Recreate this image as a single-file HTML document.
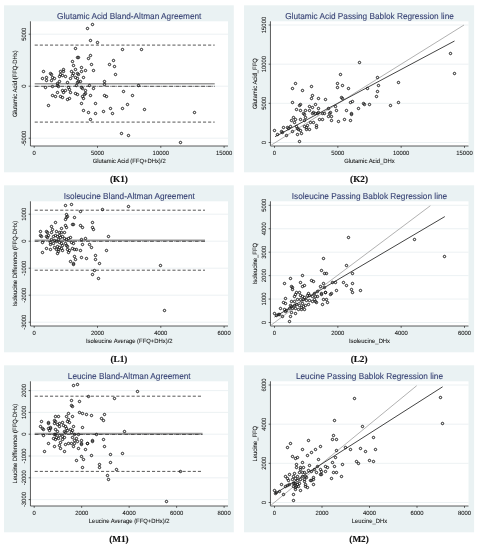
<!DOCTYPE html><html><head><meta charset="utf-8"><style>html,body{margin:0;padding:0;background:#fff;width:479px;height:550px;overflow:hidden}svg{display:block;filter:blur(0.3px)}text{font-family:"Liberation Sans",Arial,sans-serif;text-rendering:geometricPrecision}.t{font-size:8.5px;fill:#343f72;stroke:#343f72;stroke-width:0.1px}.s{font-size:6.2px;fill:#111;stroke:#111;stroke-width:0.06px}.m{fill:none;stroke:#1a1a1a;stroke-width:1.0px;}.lab{font-family:"Liberation Serif","Times New Roman",serif;font-weight:bold;font-size:9.2px;fill:#111;stroke:#111;stroke-width:0.15px}</style></head><body>
<svg width="479" height="550" viewBox="0 0 479 550">
<rect width="479" height="550" fill="#fff"/>
<rect x="4" y="5.3" width="229.8" height="167.0" fill="#eaf2f3"/>
<rect x="30.45" y="21.3" width="197.55" height="124.7" fill="#fff"/>
<line x1="30.45" x2="228" y1="34.2" y2="34.2" stroke="#e7eef0" stroke-width="0.8"/>
<line x1="30.45" x2="228" y1="86.2" y2="86.2" stroke="#e7eef0" stroke-width="0.8"/>
<line x1="30.45" x2="228" y1="138.2" y2="138.2" stroke="#e7eef0" stroke-width="0.8"/>
<text class="t" transform="translate(129.22,18.55) scale(0.97,1)" text-anchor="middle">Glutamic Acid Bland-Altman Agreement</text>
<path d="M30.45 21.3V146.0H228" fill="none" stroke="#333" stroke-width="0.8"/>
<line x1="28.65" x2="30.45" y1="34.2" y2="34.2" stroke="#333" stroke-width="0.8"/>
<text class="s" transform="translate(26.45,34.2) rotate(-90) scale(0.95,1)" text-anchor="middle">5000</text>
<line x1="28.65" x2="30.45" y1="86.2" y2="86.2" stroke="#333" stroke-width="0.8"/>
<text class="s" transform="translate(26.45,86.2) rotate(-90) scale(0.95,1)" text-anchor="middle">0</text>
<line x1="28.65" x2="30.45" y1="138.2" y2="138.2" stroke="#333" stroke-width="0.8"/>
<text class="s" transform="translate(26.45,138.2) rotate(-90) scale(0.95,1)" text-anchor="middle">-5000</text>
<text class="s" transform="translate(17.25,83.65) rotate(-90) scale(0.95,1)" text-anchor="middle">Glutamic Acid (FFQ-DHx)</text>
<line x1="34.2" x2="34.2" y1="146.0" y2="147.8" stroke="#333" stroke-width="0.8"/>
<text class="s" transform="translate(34.2,154.7) scale(0.95,1)" text-anchor="middle">0</text>
<line x1="97.5" x2="97.5" y1="146.0" y2="147.8" stroke="#333" stroke-width="0.8"/>
<text class="s" transform="translate(97.5,154.7) scale(0.95,1)" text-anchor="middle">5000</text>
<line x1="160.8" x2="160.8" y1="146.0" y2="147.8" stroke="#333" stroke-width="0.8"/>
<text class="s" transform="translate(160.8,154.7) scale(0.95,1)" text-anchor="middle">10000</text>
<line x1="224.1" x2="224.1" y1="146.0" y2="147.8" stroke="#333" stroke-width="0.8"/>
<text class="s" transform="translate(224.1,154.7) scale(0.95,1)" text-anchor="middle">15000</text>
<text class="s" transform="translate(129.22,162.7) scale(0.95,1)" text-anchor="middle">Glutamic Acid (FFQ+DHx)/2</text>
<line x1="34.7" x2="214.7" y1="83.8" y2="83.8" stroke="#9a9a9a" stroke-width="1.6"/>
<line x1="34.7" x2="214.7" y1="86.3" y2="86.3" stroke="#333" stroke-width="0.9" stroke-dasharray="4 0.9 0.6 0.9"/>
<line x1="34.7" x2="214.7" y1="45.1" y2="45.1" stroke="#444" stroke-width="0.9" stroke-dasharray="3.1 2"/>
<line x1="34.7" x2="214.7" y1="122.1" y2="122.1" stroke="#444" stroke-width="0.9" stroke-dasharray="3.1 2"/>
<g class="m">
<circle cx="87.5" cy="28.5" r="1.2"/>
<circle cx="92.5" cy="24.5" r="1.2"/>
<circle cx="90.5" cy="40.5" r="1.2"/>
<circle cx="97.5" cy="42.5" r="1.2"/>
<circle cx="75.5" cy="48.5" r="1.2"/>
<circle cx="122.5" cy="49.5" r="1.2"/>
<circle cx="90.5" cy="55.5" r="1.2"/>
<circle cx="88.5" cy="58.5" r="1.2"/>
<circle cx="113.5" cy="60.5" r="1.2"/>
<circle cx="91.5" cy="64.5" r="1.2"/>
<circle cx="109.5" cy="64.5" r="1.2"/>
<circle cx="114.5" cy="66.5" r="1.2"/>
<circle cx="93.5" cy="70.5" r="1.2"/>
<circle cx="115.5" cy="74.5" r="1.2"/>
<circle cx="104.5" cy="81.5" r="1.2"/>
<circle cx="77.5" cy="57.5" r="1.2"/>
<circle cx="78.5" cy="57.5" r="1.2"/>
<circle cx="72.5" cy="61.5" r="1.2"/>
<circle cx="73.5" cy="65.5" r="1.2"/>
<circle cx="81.5" cy="67.5" r="1.2"/>
<circle cx="43.5" cy="71.5" r="1.2"/>
<circle cx="60.5" cy="71.5" r="1.2"/>
<circle cx="63.5" cy="69.5" r="1.2"/>
<circle cx="63.5" cy="71.5" r="1.2"/>
<circle cx="71.5" cy="71.5" r="1.2"/>
<circle cx="75.5" cy="69.5" r="1.2"/>
<circle cx="81.5" cy="71.5" r="1.2"/>
<circle cx="85.5" cy="70.5" r="1.2"/>
<circle cx="50.5" cy="73.5" r="1.2"/>
<circle cx="51.5" cy="74.5" r="1.2"/>
<circle cx="60.5" cy="74.5" r="1.2"/>
<circle cx="62.5" cy="75.5" r="1.2"/>
<circle cx="73.5" cy="73.5" r="1.2"/>
<circle cx="77.5" cy="73.5" r="1.2"/>
<circle cx="78.5" cy="74.5" r="1.2"/>
<circle cx="42.5" cy="78.5" r="1.2"/>
<circle cx="46.5" cy="77.5" r="1.2"/>
<circle cx="46.5" cy="80.5" r="1.2"/>
<circle cx="52.5" cy="77.5" r="1.2"/>
<circle cx="54.5" cy="78.5" r="1.2"/>
<circle cx="51.5" cy="80.5" r="1.2"/>
<circle cx="59.5" cy="76.5" r="1.2"/>
<circle cx="65.5" cy="76.5" r="1.2"/>
<circle cx="70.5" cy="78.5" r="1.2"/>
<circle cx="72.5" cy="75.5" r="1.2"/>
<circle cx="75.5" cy="77.5" r="1.2"/>
<circle cx="77.5" cy="78.5" r="1.2"/>
<circle cx="83.5" cy="77.5" r="1.2"/>
<circle cx="67.5" cy="82.5" r="1.2"/>
<circle cx="59.5" cy="81.5" r="1.2"/>
<circle cx="78.5" cy="81.5" r="1.2"/>
<circle cx="80.5" cy="81.5" r="1.2"/>
<circle cx="77.5" cy="82.5" r="1.2"/>
<circle cx="57.5" cy="83.5" r="1.2"/>
<circle cx="45.5" cy="87.5" r="1.2"/>
<circle cx="52.5" cy="86.5" r="1.2"/>
<circle cx="57.5" cy="85.5" r="1.2"/>
<circle cx="58.5" cy="86.5" r="1.2"/>
<circle cx="68.5" cy="87.5" r="1.2"/>
<circle cx="69.5" cy="89.5" r="1.2"/>
<circle cx="76.5" cy="85.5" r="1.2"/>
<circle cx="81.5" cy="87.5" r="1.2"/>
<circle cx="82.5" cy="88.5" r="1.2"/>
<circle cx="85.5" cy="90.5" r="1.2"/>
<circle cx="89.5" cy="85.5" r="1.2"/>
<circle cx="93.5" cy="88.5" r="1.2"/>
<circle cx="104.5" cy="84.5" r="1.2"/>
<circle cx="123.5" cy="91.5" r="1.2"/>
<circle cx="57.5" cy="92.5" r="1.2"/>
<circle cx="62.5" cy="90.5" r="1.2"/>
<circle cx="63.5" cy="92.5" r="1.2"/>
<circle cx="65.5" cy="90.5" r="1.2"/>
<circle cx="70.5" cy="92.5" r="1.2"/>
<circle cx="75.5" cy="93.5" r="1.2"/>
<circle cx="77.5" cy="94.5" r="1.2"/>
<circle cx="85.5" cy="93.5" r="1.2"/>
<circle cx="84.5" cy="94.5" r="1.2"/>
<circle cx="52.5" cy="95.5" r="1.2"/>
<circle cx="55.5" cy="96.5" r="1.2"/>
<circle cx="60.5" cy="96.5" r="1.2"/>
<circle cx="62.5" cy="97.5" r="1.2"/>
<circle cx="67.5" cy="99.5" r="1.2"/>
<circle cx="69.5" cy="98.5" r="1.2"/>
<circle cx="82.5" cy="96.5" r="1.2"/>
<circle cx="83.5" cy="98.5" r="1.2"/>
<circle cx="90.5" cy="95.5" r="1.2"/>
<circle cx="104.5" cy="95.5" r="1.2"/>
<circle cx="106.5" cy="96.5" r="1.2"/>
<circle cx="48.5" cy="105.5" r="1.2"/>
<circle cx="81.5" cy="103.5" r="1.2"/>
<circle cx="95.5" cy="103.5" r="1.2"/>
<circle cx="83.5" cy="110.5" r="1.2"/>
<circle cx="88.5" cy="112.5" r="1.2"/>
<circle cx="95.5" cy="113.5" r="1.2"/>
<circle cx="103.5" cy="111.5" r="1.2"/>
<circle cx="110.5" cy="108.5" r="1.2"/>
<circle cx="112.5" cy="113.5" r="1.2"/>
<circle cx="122.5" cy="108.5" r="1.2"/>
<circle cx="90.5" cy="119.5" r="1.2"/>
<circle cx="121.5" cy="133.5" r="1.2"/>
<circle cx="141.5" cy="49.5" r="1.2"/>
<circle cx="138.5" cy="85.5" r="1.2"/>
<circle cx="132.5" cy="95.5" r="1.2"/>
<circle cx="127.5" cy="104.5" r="1.2"/>
<circle cx="144.5" cy="109.5" r="1.2"/>
<circle cx="194.5" cy="112.5" r="1.2"/>
<circle cx="128.5" cy="135.5" r="1.2"/>
<circle cx="180.5" cy="142.5" r="1.2"/>
</g>
<text class="lab" x="118.9" y="182.1" text-anchor="middle">(K1)</text>
<rect x="244" y="5.3" width="230.10000000000002" height="167.0" fill="#eaf2f3"/>
<rect x="270.45" y="21.3" width="198.05" height="124.7" fill="#fff"/>
<line x1="270.45" x2="468.5" y1="142.5" y2="142.5" stroke="#e7eef0" stroke-width="0.8"/>
<line x1="270.45" x2="468.5" y1="103.33" y2="103.33" stroke="#e7eef0" stroke-width="0.8"/>
<line x1="270.45" x2="468.5" y1="64.17" y2="64.17" stroke="#e7eef0" stroke-width="0.8"/>
<line x1="270.45" x2="468.5" y1="25" y2="25" stroke="#e7eef0" stroke-width="0.8"/>
<text class="t" transform="translate(369.48,18.55) scale(0.97,1)" text-anchor="middle">Glutamic Acid Passing Bablok Regression line</text>
<path d="M270.45 21.3V146.0H468.5" fill="none" stroke="#333" stroke-width="0.8"/>
<line x1="268.65" x2="270.45" y1="142.5" y2="142.5" stroke="#333" stroke-width="0.8"/>
<text class="s" transform="translate(266.45,142.5) rotate(-90) scale(0.95,1)" text-anchor="middle">0</text>
<line x1="268.65" x2="270.45" y1="103.33" y2="103.33" stroke="#333" stroke-width="0.8"/>
<text class="s" transform="translate(266.45,103.33) rotate(-90) scale(0.95,1)" text-anchor="middle">5000</text>
<line x1="268.65" x2="270.45" y1="64.17" y2="64.17" stroke="#333" stroke-width="0.8"/>
<text class="s" transform="translate(266.45,64.17) rotate(-90) scale(0.95,1)" text-anchor="middle">10000</text>
<line x1="268.65" x2="270.45" y1="25" y2="25" stroke="#333" stroke-width="0.8"/>
<text class="s" transform="translate(266.45,25) rotate(-90) scale(0.95,1)" text-anchor="middle">15000</text>
<text class="s" transform="translate(257.25,83.65) rotate(-90) scale(0.95,1)" text-anchor="middle">Glutamic Acid_FFQ</text>
<line x1="274.5" x2="274.5" y1="146.0" y2="147.8" stroke="#333" stroke-width="0.8"/>
<text class="s" transform="translate(274.5,154.7) scale(0.95,1)" text-anchor="middle">0</text>
<line x1="337.83" x2="337.83" y1="146.0" y2="147.8" stroke="#333" stroke-width="0.8"/>
<text class="s" transform="translate(337.83,154.7) scale(0.95,1)" text-anchor="middle">5000</text>
<line x1="401.17" x2="401.17" y1="146.0" y2="147.8" stroke="#333" stroke-width="0.8"/>
<text class="s" transform="translate(401.17,154.7) scale(0.95,1)" text-anchor="middle">10000</text>
<line x1="464.5" x2="464.5" y1="146.0" y2="147.8" stroke="#333" stroke-width="0.8"/>
<text class="s" transform="translate(464.5,154.7) scale(0.95,1)" text-anchor="middle">15000</text>
<text class="s" transform="translate(369.48,162.7) scale(0.95,1)" text-anchor="middle">Glutamic Acid_DHx</text>
<line x1="270.75" y1="145.4" x2="464" y2="25" stroke="#a8a8a8" stroke-width="0.9"/>
<line x1="275" y1="136.7" x2="454.5" y2="41" stroke="#3a3a3a" stroke-width="0.95"/>
<g class="m">
<circle cx="359.5" cy="62.5" r="1.2"/>
<circle cx="340.5" cy="74.5" r="1.2"/>
<circle cx="295.5" cy="83.5" r="1.2"/>
<circle cx="292.5" cy="88.5" r="1.2"/>
<circle cx="311.5" cy="86.5" r="1.2"/>
<circle cx="302.5" cy="90.5" r="1.2"/>
<circle cx="312.5" cy="95.5" r="1.2"/>
<circle cx="311.5" cy="98.5" r="1.2"/>
<circle cx="292.5" cy="102.5" r="1.2"/>
<circle cx="299.5" cy="105.5" r="1.2"/>
<circle cx="300.5" cy="104.5" r="1.2"/>
<circle cx="309.5" cy="106.5" r="1.2"/>
<circle cx="312.5" cy="107.5" r="1.2"/>
<circle cx="315.5" cy="104.5" r="1.2"/>
<circle cx="296.5" cy="109.5" r="1.2"/>
<circle cx="300.5" cy="110.5" r="1.2"/>
<circle cx="305.5" cy="110.5" r="1.2"/>
<circle cx="309.5" cy="110.5" r="1.2"/>
<circle cx="337.5" cy="83.5" r="1.2"/>
<circle cx="342.5" cy="85.5" r="1.2"/>
<circle cx="337.5" cy="87.5" r="1.2"/>
<circle cx="348.5" cy="88.5" r="1.2"/>
<circle cx="318.5" cy="98.5" r="1.2"/>
<circle cx="325.5" cy="99.5" r="1.2"/>
<circle cx="341.5" cy="97.5" r="1.2"/>
<circle cx="342.5" cy="98.5" r="1.2"/>
<circle cx="350.5" cy="102.5" r="1.2"/>
<circle cx="352.5" cy="101.5" r="1.2"/>
<circle cx="363.5" cy="103.5" r="1.2"/>
<circle cx="318.5" cy="108.5" r="1.2"/>
<circle cx="328.5" cy="108.5" r="1.2"/>
<circle cx="335.5" cy="106.5" r="1.2"/>
<circle cx="336.5" cy="110.5" r="1.2"/>
<circle cx="346.5" cy="110.5" r="1.2"/>
<circle cx="358.5" cy="108.5" r="1.2"/>
<circle cx="330.5" cy="112.5" r="1.2"/>
<circle cx="351.5" cy="113.5" r="1.2"/>
<circle cx="274.5" cy="130.5" r="1.2"/>
<circle cx="277.5" cy="134.5" r="1.2"/>
<circle cx="281.5" cy="131.5" r="1.2"/>
<circle cx="282.5" cy="132.5" r="1.2"/>
<circle cx="283.5" cy="127.5" r="1.2"/>
<circle cx="287.5" cy="127.5" r="1.2"/>
<circle cx="288.5" cy="128.5" r="1.2"/>
<circle cx="290.5" cy="126.5" r="1.2"/>
<circle cx="286.5" cy="135.5" r="1.2"/>
<circle cx="292.5" cy="131.5" r="1.2"/>
<circle cx="291.5" cy="120.5" r="1.2"/>
<circle cx="293.5" cy="117.5" r="1.2"/>
<circle cx="295.5" cy="119.5" r="1.2"/>
<circle cx="294.5" cy="122.5" r="1.2"/>
<circle cx="300.5" cy="119.5" r="1.2"/>
<circle cx="303.5" cy="113.5" r="1.2"/>
<circle cx="304.5" cy="114.5" r="1.2"/>
<circle cx="305.5" cy="117.5" r="1.2"/>
<circle cx="304.5" cy="120.5" r="1.2"/>
<circle cx="296.5" cy="126.5" r="1.2"/>
<circle cx="297.5" cy="128.5" r="1.2"/>
<circle cx="298.5" cy="129.5" r="1.2"/>
<circle cx="300.5" cy="130.5" r="1.2"/>
<circle cx="297.5" cy="134.5" r="1.2"/>
<circle cx="301.5" cy="133.5" r="1.2"/>
<circle cx="304.5" cy="126.5" r="1.2"/>
<circle cx="306.5" cy="127.5" r="1.2"/>
<circle cx="307.5" cy="125.5" r="1.2"/>
<circle cx="306.5" cy="129.5" r="1.2"/>
<circle cx="309.5" cy="129.5" r="1.2"/>
<circle cx="310.5" cy="122.5" r="1.2"/>
<circle cx="313.5" cy="122.5" r="1.2"/>
<circle cx="316.5" cy="125.5" r="1.2"/>
<circle cx="316.5" cy="127.5" r="1.2"/>
<circle cx="299.5" cy="141.5" r="1.2"/>
<circle cx="312.5" cy="113.5" r="1.2"/>
<circle cx="315.5" cy="113.5" r="1.2"/>
<circle cx="313.5" cy="112.5" r="1.2"/>
<circle cx="318.5" cy="112.5" r="1.2"/>
<circle cx="317.5" cy="113.5" r="1.2"/>
<circle cx="322.5" cy="113.5" r="1.2"/>
<circle cx="324.5" cy="113.5" r="1.2"/>
<circle cx="329.5" cy="113.5" r="1.2"/>
<circle cx="328.5" cy="116.5" r="1.2"/>
<circle cx="331.5" cy="116.5" r="1.2"/>
<circle cx="319.5" cy="119.5" r="1.2"/>
<circle cx="322.5" cy="119.5" r="1.2"/>
<circle cx="331.5" cy="120.5" r="1.2"/>
<circle cx="338.5" cy="121.5" r="1.2"/>
<circle cx="344.5" cy="119.5" r="1.2"/>
<circle cx="350.5" cy="120.5" r="1.2"/>
<circle cx="351.5" cy="114.5" r="1.2"/>
<circle cx="450.5" cy="53.5" r="1.2"/>
<circle cx="454.5" cy="73.5" r="1.2"/>
<circle cx="377.5" cy="77.5" r="1.2"/>
<circle cx="398.5" cy="82.5" r="1.2"/>
<circle cx="378.5" cy="85.5" r="1.2"/>
<circle cx="367.5" cy="88.5" r="1.2"/>
<circle cx="377.5" cy="91.5" r="1.2"/>
<circle cx="376.5" cy="96.5" r="1.2"/>
<circle cx="364.5" cy="104.5" r="1.2"/>
<circle cx="369.5" cy="104.5" r="1.2"/>
<circle cx="390.5" cy="105.5" r="1.2"/>
<circle cx="398.5" cy="102.5" r="1.2"/>
</g>
<text class="lab" x="359.05" y="182.1" text-anchor="middle">(K2)</text>
<rect x="4" y="185.3" width="229.8" height="167.0" fill="#eaf2f3"/>
<rect x="30.45" y="201.3" width="197.55" height="124.69999999999999" fill="#fff"/>
<line x1="30.45" x2="228" y1="214.2" y2="214.2" stroke="#e7eef0" stroke-width="0.8"/>
<line x1="30.45" x2="228" y1="241.2" y2="241.2" stroke="#e7eef0" stroke-width="0.8"/>
<line x1="30.45" x2="228" y1="268.2" y2="268.2" stroke="#e7eef0" stroke-width="0.8"/>
<line x1="30.45" x2="228" y1="295.2" y2="295.2" stroke="#e7eef0" stroke-width="0.8"/>
<line x1="30.45" x2="228" y1="322.2" y2="322.2" stroke="#e7eef0" stroke-width="0.8"/>
<text class="t" transform="translate(129.22,198.55) scale(0.97,1)" text-anchor="middle">Isoleucine Bland-Altman Agreement</text>
<path d="M30.45 201.3V326.0H228" fill="none" stroke="#333" stroke-width="0.8"/>
<line x1="28.65" x2="30.45" y1="214.2" y2="214.2" stroke="#333" stroke-width="0.8"/>
<text class="s" transform="translate(26.45,214.2) rotate(-90) scale(0.95,1)" text-anchor="middle">1000</text>
<line x1="28.65" x2="30.45" y1="241.2" y2="241.2" stroke="#333" stroke-width="0.8"/>
<text class="s" transform="translate(26.45,241.2) rotate(-90) scale(0.95,1)" text-anchor="middle">0</text>
<line x1="28.65" x2="30.45" y1="268.2" y2="268.2" stroke="#333" stroke-width="0.8"/>
<text class="s" transform="translate(26.45,268.2) rotate(-90) scale(0.95,1)" text-anchor="middle">-1000</text>
<line x1="28.65" x2="30.45" y1="295.2" y2="295.2" stroke="#333" stroke-width="0.8"/>
<text class="s" transform="translate(26.45,295.2) rotate(-90) scale(0.95,1)" text-anchor="middle">-2000</text>
<line x1="28.65" x2="30.45" y1="322.2" y2="322.2" stroke="#333" stroke-width="0.8"/>
<text class="s" transform="translate(26.45,322.2) rotate(-90) scale(0.95,1)" text-anchor="middle">-3000</text>
<text class="s" transform="translate(17.25,263.65) rotate(-90) scale(0.95,1)" text-anchor="middle">Isoleucine Difference (FFQ-DHx)</text>
<line x1="34.2" x2="34.2" y1="326.0" y2="327.8" stroke="#333" stroke-width="0.8"/>
<text class="s" transform="translate(34.2,334.7) scale(0.95,1)" text-anchor="middle">0</text>
<line x1="97.5" x2="97.5" y1="326.0" y2="327.8" stroke="#333" stroke-width="0.8"/>
<text class="s" transform="translate(97.5,334.7) scale(0.95,1)" text-anchor="middle">2000</text>
<line x1="160.8" x2="160.8" y1="326.0" y2="327.8" stroke="#333" stroke-width="0.8"/>
<text class="s" transform="translate(160.8,334.7) scale(0.95,1)" text-anchor="middle">4000</text>
<line x1="224.1" x2="224.1" y1="326.0" y2="327.8" stroke="#333" stroke-width="0.8"/>
<text class="s" transform="translate(224.1,334.7) scale(0.95,1)" text-anchor="middle">6000</text>
<text class="s" transform="translate(129.22,342.7) scale(0.95,1)" text-anchor="middle">Isoleucine Average (FFQ+DHx)/2</text>
<line x1="34.7" x2="205" y1="240.3" y2="240.3" stroke="#9a9a9a" stroke-width="1.6"/>
<line x1="34.7" x2="205" y1="241.3" y2="241.3" stroke="#333" stroke-width="0.9" stroke-dasharray="4 0.9 0.6 0.9"/>
<line x1="34.7" x2="205" y1="210.2" y2="210.2" stroke="#444" stroke-width="0.9" stroke-dasharray="3.1 2"/>
<line x1="34.7" x2="205" y1="270.2" y2="270.2" stroke="#444" stroke-width="0.9" stroke-dasharray="3.1 2"/>
<g class="m">
<circle cx="65.5" cy="205.5" r="1.2"/>
<circle cx="71.5" cy="204.5" r="1.2"/>
<circle cx="66.5" cy="214.5" r="1.2"/>
<circle cx="67.5" cy="216.5" r="1.2"/>
<circle cx="66.5" cy="217.5" r="1.2"/>
<circle cx="65.5" cy="219.5" r="1.2"/>
<circle cx="74.5" cy="217.5" r="1.2"/>
<circle cx="55.5" cy="222.5" r="1.2"/>
<circle cx="72.5" cy="224.5" r="1.2"/>
<circle cx="73.5" cy="224.5" r="1.2"/>
<circle cx="51.5" cy="226.5" r="1.2"/>
<circle cx="65.5" cy="225.5" r="1.2"/>
<circle cx="66.5" cy="227.5" r="1.2"/>
<circle cx="61.5" cy="228.5" r="1.2"/>
<circle cx="52.5" cy="229.5" r="1.2"/>
<circle cx="40.5" cy="231.5" r="1.2"/>
<circle cx="46.5" cy="231.5" r="1.2"/>
<circle cx="47.5" cy="232.5" r="1.2"/>
<circle cx="51.5" cy="232.5" r="1.2"/>
<circle cx="56.5" cy="231.5" r="1.2"/>
<circle cx="59.5" cy="232.5" r="1.2"/>
<circle cx="61.5" cy="232.5" r="1.2"/>
<circle cx="64.5" cy="232.5" r="1.2"/>
<circle cx="80.5" cy="211.5" r="1.2"/>
<circle cx="102.5" cy="209.5" r="1.2"/>
<circle cx="80.5" cy="225.5" r="1.2"/>
<circle cx="82.5" cy="227.5" r="1.2"/>
<circle cx="92.5" cy="222.5" r="1.2"/>
<circle cx="92.5" cy="227.5" r="1.2"/>
<circle cx="93.5" cy="229.5" r="1.2"/>
<circle cx="40.5" cy="235.5" r="1.2"/>
<circle cx="41.5" cy="236.5" r="1.2"/>
<circle cx="46.5" cy="236.5" r="1.2"/>
<circle cx="48.5" cy="235.5" r="1.2"/>
<circle cx="47.5" cy="237.5" r="1.2"/>
<circle cx="53.5" cy="236.5" r="1.2"/>
<circle cx="55.5" cy="235.5" r="1.2"/>
<circle cx="57.5" cy="236.5" r="1.2"/>
<circle cx="59.5" cy="235.5" r="1.2"/>
<circle cx="60.5" cy="237.5" r="1.2"/>
<circle cx="62.5" cy="236.5" r="1.2"/>
<circle cx="64.5" cy="238.5" r="1.2"/>
<circle cx="66.5" cy="239.5" r="1.2"/>
<circle cx="68.5" cy="238.5" r="1.2"/>
<circle cx="70.5" cy="237.5" r="1.2"/>
<circle cx="51.5" cy="239.5" r="1.2"/>
<circle cx="54.5" cy="240.5" r="1.2"/>
<circle cx="56.5" cy="241.5" r="1.2"/>
<circle cx="58.5" cy="239.5" r="1.2"/>
<circle cx="42.5" cy="242.5" r="1.2"/>
<circle cx="50.5" cy="242.5" r="1.2"/>
<circle cx="50.5" cy="244.5" r="1.2"/>
<circle cx="53.5" cy="243.5" r="1.2"/>
<circle cx="59.5" cy="242.5" r="1.2"/>
<circle cx="61.5" cy="243.5" r="1.2"/>
<circle cx="62.5" cy="245.5" r="1.2"/>
<circle cx="65.5" cy="243.5" r="1.2"/>
<circle cx="66.5" cy="245.5" r="1.2"/>
<circle cx="67.5" cy="246.5" r="1.2"/>
<circle cx="71.5" cy="242.5" r="1.2"/>
<circle cx="73.5" cy="243.5" r="1.2"/>
<circle cx="46.5" cy="248.5" r="1.2"/>
<circle cx="50.5" cy="249.5" r="1.2"/>
<circle cx="54.5" cy="247.5" r="1.2"/>
<circle cx="57.5" cy="246.5" r="1.2"/>
<circle cx="59.5" cy="247.5" r="1.2"/>
<circle cx="56.5" cy="249.5" r="1.2"/>
<circle cx="58.5" cy="249.5" r="1.2"/>
<circle cx="61.5" cy="248.5" r="1.2"/>
<circle cx="62.5" cy="250.5" r="1.2"/>
<circle cx="57.5" cy="253.5" r="1.2"/>
<circle cx="58.5" cy="251.5" r="1.2"/>
<circle cx="42.5" cy="252.5" r="1.2"/>
<circle cx="67.5" cy="249.5" r="1.2"/>
<circle cx="69.5" cy="250.5" r="1.2"/>
<circle cx="72.5" cy="248.5" r="1.2"/>
<circle cx="74.5" cy="249.5" r="1.2"/>
<circle cx="76.5" cy="249.5" r="1.2"/>
<circle cx="68.5" cy="252.5" r="1.2"/>
<circle cx="74.5" cy="256.5" r="1.2"/>
<circle cx="75.5" cy="259.5" r="1.2"/>
<circle cx="70.5" cy="261.5" r="1.2"/>
<circle cx="73.5" cy="263.5" r="1.2"/>
<circle cx="108.5" cy="236.5" r="1.2"/>
<circle cx="81.5" cy="239.5" r="1.2"/>
<circle cx="85.5" cy="238.5" r="1.2"/>
<circle cx="82.5" cy="244.5" r="1.2"/>
<circle cx="89.5" cy="244.5" r="1.2"/>
<circle cx="91.5" cy="247.5" r="1.2"/>
<circle cx="80.5" cy="250.5" r="1.2"/>
<circle cx="106.5" cy="250.5" r="1.2"/>
<circle cx="95.5" cy="255.5" r="1.2"/>
<circle cx="81.5" cy="257.5" r="1.2"/>
<circle cx="86.5" cy="258.5" r="1.2"/>
<circle cx="95.5" cy="259.5" r="1.2"/>
<circle cx="99.5" cy="263.5" r="1.2"/>
<circle cx="73.5" cy="264.5" r="1.2"/>
<circle cx="94.5" cy="270.5" r="1.2"/>
<circle cx="92.5" cy="274.5" r="1.2"/>
<circle cx="98.5" cy="278.5" r="1.2"/>
<circle cx="128.5" cy="206.5" r="1.2"/>
<circle cx="160.5" cy="265.5" r="1.2"/>
<circle cx="164.5" cy="310.5" r="1.2"/>
</g>
<text class="lab" x="118.9" y="362.1" text-anchor="middle">(L1)</text>
<rect x="244" y="185.3" width="230.10000000000002" height="167.0" fill="#eaf2f3"/>
<rect x="270.45" y="201.3" width="198.05" height="124.69999999999999" fill="#fff"/>
<line x1="270.45" x2="468.5" y1="322.5" y2="322.5" stroke="#e7eef0" stroke-width="0.8"/>
<line x1="270.45" x2="468.5" y1="299.06" y2="299.06" stroke="#e7eef0" stroke-width="0.8"/>
<line x1="270.45" x2="468.5" y1="275.62" y2="275.62" stroke="#e7eef0" stroke-width="0.8"/>
<line x1="270.45" x2="468.5" y1="252.18" y2="252.18" stroke="#e7eef0" stroke-width="0.8"/>
<line x1="270.45" x2="468.5" y1="228.74" y2="228.74" stroke="#e7eef0" stroke-width="0.8"/>
<line x1="270.45" x2="468.5" y1="205.3" y2="205.3" stroke="#e7eef0" stroke-width="0.8"/>
<text class="t" transform="translate(369.48,198.55) scale(0.97,1)" text-anchor="middle">Isoleucine Passing Bablok Regression line</text>
<path d="M270.45 201.3V326.0H468.5" fill="none" stroke="#333" stroke-width="0.8"/>
<line x1="268.65" x2="270.45" y1="322.5" y2="322.5" stroke="#333" stroke-width="0.8"/>
<text class="s" transform="translate(266.45,322.5) rotate(-90) scale(0.95,1)" text-anchor="middle">0</text>
<line x1="268.65" x2="270.45" y1="299.06" y2="299.06" stroke="#333" stroke-width="0.8"/>
<text class="s" transform="translate(266.45,299.06) rotate(-90) scale(0.95,1)" text-anchor="middle">1000</text>
<line x1="268.65" x2="270.45" y1="275.62" y2="275.62" stroke="#333" stroke-width="0.8"/>
<text class="s" transform="translate(266.45,275.62) rotate(-90) scale(0.95,1)" text-anchor="middle">2000</text>
<line x1="268.65" x2="270.45" y1="252.18" y2="252.18" stroke="#333" stroke-width="0.8"/>
<text class="s" transform="translate(266.45,252.18) rotate(-90) scale(0.95,1)" text-anchor="middle">3000</text>
<line x1="268.65" x2="270.45" y1="228.74" y2="228.74" stroke="#333" stroke-width="0.8"/>
<text class="s" transform="translate(266.45,228.74) rotate(-90) scale(0.95,1)" text-anchor="middle">4000</text>
<line x1="268.65" x2="270.45" y1="205.3" y2="205.3" stroke="#333" stroke-width="0.8"/>
<text class="s" transform="translate(266.45,205.3) rotate(-90) scale(0.95,1)" text-anchor="middle">5000</text>
<text class="s" transform="translate(257.25,263.65) rotate(-90) scale(0.95,1)" text-anchor="middle">Isoleucine_FFQ</text>
<line x1="274.5" x2="274.5" y1="326.0" y2="327.8" stroke="#333" stroke-width="0.8"/>
<text class="s" transform="translate(274.5,334.7) scale(0.95,1)" text-anchor="middle">0</text>
<line x1="337.83" x2="337.83" y1="326.0" y2="327.8" stroke="#333" stroke-width="0.8"/>
<text class="s" transform="translate(337.83,334.7) scale(0.95,1)" text-anchor="middle">2000</text>
<line x1="401.17" x2="401.17" y1="326.0" y2="327.8" stroke="#333" stroke-width="0.8"/>
<text class="s" transform="translate(401.17,334.7) scale(0.95,1)" text-anchor="middle">4000</text>
<line x1="464.5" x2="464.5" y1="326.0" y2="327.8" stroke="#333" stroke-width="0.8"/>
<text class="s" transform="translate(464.5,334.7) scale(0.95,1)" text-anchor="middle">6000</text>
<text class="s" transform="translate(369.48,342.7) scale(0.95,1)" text-anchor="middle">Isoleucine_DHx</text>
<line x1="270.75" y1="325.4" x2="430.4" y2="205.7" stroke="#a8a8a8" stroke-width="0.9"/>
<line x1="274.5" y1="317" x2="444.8" y2="216.6" stroke="#3a3a3a" stroke-width="0.95"/>
<g class="m">
<circle cx="302.5" cy="275.5" r="1.2"/>
<circle cx="290.5" cy="278.5" r="1.2"/>
<circle cx="284.5" cy="283.5" r="1.2"/>
<circle cx="300.5" cy="282.5" r="1.2"/>
<circle cx="311.5" cy="280.5" r="1.2"/>
<circle cx="313.5" cy="281.5" r="1.2"/>
<circle cx="302.5" cy="286.5" r="1.2"/>
<circle cx="304.5" cy="285.5" r="1.2"/>
<circle cx="291.5" cy="286.5" r="1.2"/>
<circle cx="292.5" cy="287.5" r="1.2"/>
<circle cx="292.5" cy="289.5" r="1.2"/>
<circle cx="296.5" cy="292.5" r="1.2"/>
<circle cx="299.5" cy="292.5" r="1.2"/>
<circle cx="308.5" cy="293.5" r="1.2"/>
<circle cx="314.5" cy="293.5" r="1.2"/>
<circle cx="317.5" cy="291.5" r="1.2"/>
<circle cx="346.5" cy="265.5" r="1.2"/>
<circle cx="321.5" cy="270.5" r="1.2"/>
<circle cx="324.5" cy="273.5" r="1.2"/>
<circle cx="326.5" cy="273.5" r="1.2"/>
<circle cx="352.5" cy="273.5" r="1.2"/>
<circle cx="323.5" cy="283.5" r="1.2"/>
<circle cx="332.5" cy="282.5" r="1.2"/>
<circle cx="335.5" cy="282.5" r="1.2"/>
<circle cx="343.5" cy="282.5" r="1.2"/>
<circle cx="346.5" cy="285.5" r="1.2"/>
<circle cx="352.5" cy="283.5" r="1.2"/>
<circle cx="320.5" cy="286.5" r="1.2"/>
<circle cx="324.5" cy="287.5" r="1.2"/>
<circle cx="336.5" cy="290.5" r="1.2"/>
<circle cx="351.5" cy="289.5" r="1.2"/>
<circle cx="352.5" cy="292.5" r="1.2"/>
<circle cx="360.5" cy="290.5" r="1.2"/>
<circle cx="325.5" cy="292.5" r="1.2"/>
<circle cx="321.5" cy="293.5" r="1.2"/>
<circle cx="331.5" cy="293.5" r="1.2"/>
<circle cx="285.5" cy="298.5" r="1.2"/>
<circle cx="294.5" cy="296.5" r="1.2"/>
<circle cx="295.5" cy="294.5" r="1.2"/>
<circle cx="300.5" cy="295.5" r="1.2"/>
<circle cx="302.5" cy="296.5" r="1.2"/>
<circle cx="304.5" cy="297.5" r="1.2"/>
<circle cx="307.5" cy="295.5" r="1.2"/>
<circle cx="309.5" cy="295.5" r="1.2"/>
<circle cx="312.5" cy="296.5" r="1.2"/>
<circle cx="315.5" cy="296.5" r="1.2"/>
<circle cx="291.5" cy="301.5" r="1.2"/>
<circle cx="294.5" cy="301.5" r="1.2"/>
<circle cx="297.5" cy="299.5" r="1.2"/>
<circle cx="300.5" cy="299.5" r="1.2"/>
<circle cx="303.5" cy="299.5" r="1.2"/>
<circle cx="306.5" cy="300.5" r="1.2"/>
<circle cx="309.5" cy="300.5" r="1.2"/>
<circle cx="312.5" cy="301.5" r="1.2"/>
<circle cx="315.5" cy="301.5" r="1.2"/>
<circle cx="283.5" cy="302.5" r="1.2"/>
<circle cx="285.5" cy="303.5" r="1.2"/>
<circle cx="290.5" cy="305.5" r="1.2"/>
<circle cx="291.5" cy="306.5" r="1.2"/>
<circle cx="294.5" cy="305.5" r="1.2"/>
<circle cx="296.5" cy="304.5" r="1.2"/>
<circle cx="299.5" cy="305.5" r="1.2"/>
<circle cx="302.5" cy="303.5" r="1.2"/>
<circle cx="305.5" cy="305.5" r="1.2"/>
<circle cx="308.5" cy="304.5" r="1.2"/>
<circle cx="280.5" cy="308.5" r="1.2"/>
<circle cx="284.5" cy="309.5" r="1.2"/>
<circle cx="285.5" cy="311.5" r="1.2"/>
<circle cx="286.5" cy="310.5" r="1.2"/>
<circle cx="289.5" cy="308.5" r="1.2"/>
<circle cx="292.5" cy="308.5" r="1.2"/>
<circle cx="295.5" cy="308.5" r="1.2"/>
<circle cx="298.5" cy="309.5" r="1.2"/>
<circle cx="301.5" cy="309.5" r="1.2"/>
<circle cx="304.5" cy="309.5" r="1.2"/>
<circle cx="301.5" cy="307.5" r="1.2"/>
<circle cx="303.5" cy="306.5" r="1.2"/>
<circle cx="291.5" cy="312.5" r="1.2"/>
<circle cx="295.5" cy="313.5" r="1.2"/>
<circle cx="274.5" cy="313.5" r="1.2"/>
<circle cx="276.5" cy="315.5" r="1.2"/>
<circle cx="278.5" cy="314.5" r="1.2"/>
<circle cx="279.5" cy="314.5" r="1.2"/>
<circle cx="282.5" cy="316.5" r="1.2"/>
<circle cx="290.5" cy="316.5" r="1.2"/>
<circle cx="289.5" cy="321.5" r="1.2"/>
<circle cx="314.5" cy="299.5" r="1.2"/>
<circle cx="316.5" cy="302.5" r="1.2"/>
<circle cx="321.5" cy="294.5" r="1.2"/>
<circle cx="325.5" cy="292.5" r="1.2"/>
<circle cx="330.5" cy="294.5" r="1.2"/>
<circle cx="323.5" cy="299.5" r="1.2"/>
<circle cx="326.5" cy="299.5" r="1.2"/>
<circle cx="327.5" cy="302.5" r="1.2"/>
<circle cx="322.5" cy="304.5" r="1.2"/>
<circle cx="317.5" cy="296.5" r="1.2"/>
<circle cx="414.5" cy="239.5" r="1.2"/>
<circle cx="444.5" cy="256.5" r="1.2"/>
<circle cx="348.5" cy="237.5" r="1.2"/>
<circle cx="323.5" cy="258.5" r="1.2"/>
</g>
<text class="lab" x="359.05" y="362.1" text-anchor="middle">(L2)</text>
<rect x="4" y="365.3" width="229.8" height="166.99999999999994" fill="#eaf2f3"/>
<rect x="30.45" y="381.3" width="197.55" height="124.69999999999999" fill="#fff"/>
<line x1="30.45" x2="228" y1="390.6" y2="390.6" stroke="#e7eef0" stroke-width="0.8"/>
<line x1="30.45" x2="228" y1="412.4" y2="412.4" stroke="#e7eef0" stroke-width="0.8"/>
<line x1="30.45" x2="228" y1="434.2" y2="434.2" stroke="#e7eef0" stroke-width="0.8"/>
<line x1="30.45" x2="228" y1="456.0" y2="456.0" stroke="#e7eef0" stroke-width="0.8"/>
<line x1="30.45" x2="228" y1="477.8" y2="477.8" stroke="#e7eef0" stroke-width="0.8"/>
<line x1="30.45" x2="228" y1="499.6" y2="499.6" stroke="#e7eef0" stroke-width="0.8"/>
<text class="t" transform="translate(129.22,378.55) scale(0.97,1)" text-anchor="middle">Leucine Bland-Altman Agreement</text>
<path d="M30.45 381.3V506.0H228" fill="none" stroke="#333" stroke-width="0.8"/>
<line x1="28.65" x2="30.45" y1="390.6" y2="390.6" stroke="#333" stroke-width="0.8"/>
<text class="s" transform="translate(26.45,390.6) rotate(-90) scale(0.95,1)" text-anchor="middle">2000</text>
<line x1="28.65" x2="30.45" y1="412.4" y2="412.4" stroke="#333" stroke-width="0.8"/>
<text class="s" transform="translate(26.45,412.4) rotate(-90) scale(0.95,1)" text-anchor="middle">1000</text>
<line x1="28.65" x2="30.45" y1="434.2" y2="434.2" stroke="#333" stroke-width="0.8"/>
<text class="s" transform="translate(26.45,434.2) rotate(-90) scale(0.95,1)" text-anchor="middle">0</text>
<line x1="28.65" x2="30.45" y1="456.0" y2="456.0" stroke="#333" stroke-width="0.8"/>
<text class="s" transform="translate(26.45,456) rotate(-90) scale(0.95,1)" text-anchor="middle">-1000</text>
<line x1="28.65" x2="30.45" y1="477.8" y2="477.8" stroke="#333" stroke-width="0.8"/>
<text class="s" transform="translate(26.45,477.8) rotate(-90) scale(0.95,1)" text-anchor="middle">-2000</text>
<line x1="28.65" x2="30.45" y1="499.6" y2="499.6" stroke="#333" stroke-width="0.8"/>
<text class="s" transform="translate(26.45,499.6) rotate(-90) scale(0.95,1)" text-anchor="middle">-3000</text>
<text class="s" transform="translate(17.25,443.65) rotate(-90) scale(0.95,1)" text-anchor="middle">Leucine Difference (FFQ-DHx)</text>
<line x1="34.2" x2="34.2" y1="506.0" y2="507.8" stroke="#333" stroke-width="0.8"/>
<text class="s" transform="translate(34.2,514.7) scale(0.95,1)" text-anchor="middle">0</text>
<line x1="81.67" x2="81.67" y1="506.0" y2="507.8" stroke="#333" stroke-width="0.8"/>
<text class="s" transform="translate(81.67,514.7) scale(0.95,1)" text-anchor="middle">2000</text>
<line x1="129.15" x2="129.15" y1="506.0" y2="507.8" stroke="#333" stroke-width="0.8"/>
<text class="s" transform="translate(129.15,514.7) scale(0.95,1)" text-anchor="middle">4000</text>
<line x1="176.62" x2="176.62" y1="506.0" y2="507.8" stroke="#333" stroke-width="0.8"/>
<text class="s" transform="translate(176.62,514.7) scale(0.95,1)" text-anchor="middle">6000</text>
<line x1="224.1" x2="224.1" y1="506.0" y2="507.8" stroke="#333" stroke-width="0.8"/>
<text class="s" transform="translate(224.1,514.7) scale(0.95,1)" text-anchor="middle">8000</text>
<text class="s" transform="translate(129.22,522.7) scale(0.95,1)" text-anchor="middle">Leucine Average (FFQ+DHx)/2</text>
<line x1="34.7" x2="202.5" y1="433.6" y2="433.6" stroke="#9a9a9a" stroke-width="1.6"/>
<line x1="34.7" x2="202.5" y1="434.4" y2="434.4" stroke="#333" stroke-width="0.9" stroke-dasharray="4 0.9 0.6 0.9"/>
<line x1="34.7" x2="202.5" y1="396.2" y2="396.2" stroke="#444" stroke-width="0.9" stroke-dasharray="3.1 2"/>
<line x1="34.7" x2="202.5" y1="471.4" y2="471.4" stroke="#444" stroke-width="0.9" stroke-dasharray="3.1 2"/>
<g class="m">
<circle cx="73.5" cy="385.5" r="1.2"/>
<circle cx="77.5" cy="384.5" r="1.2"/>
<circle cx="88.5" cy="396.5" r="1.2"/>
<circle cx="114.5" cy="398.5" r="1.2"/>
<circle cx="71.5" cy="400.5" r="1.2"/>
<circle cx="79.5" cy="401.5" r="1.2"/>
<circle cx="71.5" cy="405.5" r="1.2"/>
<circle cx="72.5" cy="406.5" r="1.2"/>
<circle cx="68.5" cy="413.5" r="1.2"/>
<circle cx="79.5" cy="412.5" r="1.2"/>
<circle cx="82.5" cy="413.5" r="1.2"/>
<circle cx="86.5" cy="414.5" r="1.2"/>
<circle cx="91.5" cy="415.5" r="1.2"/>
<circle cx="104.5" cy="414.5" r="1.2"/>
<circle cx="101.5" cy="418.5" r="1.2"/>
<circle cx="103.5" cy="420.5" r="1.2"/>
<circle cx="72.5" cy="416.5" r="1.2"/>
<circle cx="55.5" cy="416.5" r="1.2"/>
<circle cx="58.5" cy="416.5" r="1.2"/>
<circle cx="66.5" cy="416.5" r="1.2"/>
<circle cx="41.5" cy="421.5" r="1.2"/>
<circle cx="48.5" cy="422.5" r="1.2"/>
<circle cx="48.5" cy="423.5" r="1.2"/>
<circle cx="54.5" cy="420.5" r="1.2"/>
<circle cx="55.5" cy="421.5" r="1.2"/>
<circle cx="54.5" cy="423.5" r="1.2"/>
<circle cx="57.5" cy="424.5" r="1.2"/>
<circle cx="59.5" cy="423.5" r="1.2"/>
<circle cx="62.5" cy="422.5" r="1.2"/>
<circle cx="63.5" cy="425.5" r="1.2"/>
<circle cx="67.5" cy="421.5" r="1.2"/>
<circle cx="68.5" cy="419.5" r="1.2"/>
<circle cx="69.5" cy="422.5" r="1.2"/>
<circle cx="40.5" cy="426.5" r="1.2"/>
<circle cx="42.5" cy="428.5" r="1.2"/>
<circle cx="43.5" cy="429.5" r="1.2"/>
<circle cx="48.5" cy="428.5" r="1.2"/>
<circle cx="50.5" cy="428.5" r="1.2"/>
<circle cx="49.5" cy="430.5" r="1.2"/>
<circle cx="50.5" cy="427.5" r="1.2"/>
<circle cx="55.5" cy="429.5" r="1.2"/>
<circle cx="57.5" cy="431.5" r="1.2"/>
<circle cx="59.5" cy="426.5" r="1.2"/>
<circle cx="65.5" cy="426.5" r="1.2"/>
<circle cx="66.5" cy="428.5" r="1.2"/>
<circle cx="64.5" cy="431.5" r="1.2"/>
<circle cx="65.5" cy="432.5" r="1.2"/>
<circle cx="67.5" cy="430.5" r="1.2"/>
<circle cx="70.5" cy="429.5" r="1.2"/>
<circle cx="72.5" cy="430.5" r="1.2"/>
<circle cx="73.5" cy="426.5" r="1.2"/>
<circle cx="43.5" cy="435.5" r="1.2"/>
<circle cx="54.5" cy="434.5" r="1.2"/>
<circle cx="55.5" cy="434.5" r="1.2"/>
<circle cx="59.5" cy="435.5" r="1.2"/>
<circle cx="62.5" cy="436.5" r="1.2"/>
<circle cx="64.5" cy="437.5" r="1.2"/>
<circle cx="53.5" cy="438.5" r="1.2"/>
<circle cx="55.5" cy="439.5" r="1.2"/>
<circle cx="56.5" cy="437.5" r="1.2"/>
<circle cx="58.5" cy="438.5" r="1.2"/>
<circle cx="62.5" cy="439.5" r="1.2"/>
<circle cx="60.5" cy="442.5" r="1.2"/>
<circle cx="71.5" cy="432.5" r="1.2"/>
<circle cx="74.5" cy="434.5" r="1.2"/>
<circle cx="72.5" cy="437.5" r="1.2"/>
<circle cx="76.5" cy="438.5" r="1.2"/>
<circle cx="74.5" cy="440.5" r="1.2"/>
<circle cx="48.5" cy="443.5" r="1.2"/>
<circle cx="68.5" cy="443.5" r="1.2"/>
<circle cx="71.5" cy="443.5" r="1.2"/>
<circle cx="82.5" cy="427.5" r="1.2"/>
<circle cx="96.5" cy="434.5" r="1.2"/>
<circle cx="124.5" cy="431.5" r="1.2"/>
<circle cx="78.5" cy="434.5" r="1.2"/>
<circle cx="81.5" cy="440.5" r="1.2"/>
<circle cx="81.5" cy="443.5" r="1.2"/>
<circle cx="92.5" cy="440.5" r="1.2"/>
<circle cx="103.5" cy="439.5" r="1.2"/>
<circle cx="87.5" cy="443.5" r="1.2"/>
<circle cx="54.5" cy="446.5" r="1.2"/>
<circle cx="59.5" cy="445.5" r="1.2"/>
<circle cx="60.5" cy="448.5" r="1.2"/>
<circle cx="65.5" cy="444.5" r="1.2"/>
<circle cx="44.5" cy="451.5" r="1.2"/>
<circle cx="64.5" cy="451.5" r="1.2"/>
<circle cx="74.5" cy="443.5" r="1.2"/>
<circle cx="77.5" cy="441.5" r="1.2"/>
<circle cx="73.5" cy="446.5" r="1.2"/>
<circle cx="78.5" cy="448.5" r="1.2"/>
<circle cx="81.5" cy="444.5" r="1.2"/>
<circle cx="87.5" cy="443.5" r="1.2"/>
<circle cx="92.5" cy="441.5" r="1.2"/>
<circle cx="104.5" cy="446.5" r="1.2"/>
<circle cx="85.5" cy="449.5" r="1.2"/>
<circle cx="110.5" cy="454.5" r="1.2"/>
<circle cx="122.5" cy="453.5" r="1.2"/>
<circle cx="91.5" cy="455.5" r="1.2"/>
<circle cx="81.5" cy="456.5" r="1.2"/>
<circle cx="83.5" cy="459.5" r="1.2"/>
<circle cx="76.5" cy="460.5" r="1.2"/>
<circle cx="110.5" cy="462.5" r="1.2"/>
<circle cx="99.5" cy="464.5" r="1.2"/>
<circle cx="99.5" cy="467.5" r="1.2"/>
<circle cx="82.5" cy="467.5" r="1.2"/>
<circle cx="116.5" cy="469.5" r="1.2"/>
<circle cx="107.5" cy="475.5" r="1.2"/>
<circle cx="108.5" cy="479.5" r="1.2"/>
<circle cx="137.5" cy="391.5" r="1.2"/>
<circle cx="180.5" cy="471.5" r="1.2"/>
<circle cx="166.5" cy="501.5" r="1.2"/>
</g>
<text class="lab" x="118.9" y="542.1" text-anchor="middle">(M1)</text>
<rect x="244" y="365.3" width="230.10000000000002" height="166.99999999999994" fill="#eaf2f3"/>
<rect x="270.45" y="381.3" width="198.05" height="124.69999999999999" fill="#fff"/>
<line x1="270.45" x2="468.5" y1="502.5" y2="502.5" stroke="#e7eef0" stroke-width="0.8"/>
<line x1="270.45" x2="468.5" y1="463.33" y2="463.33" stroke="#e7eef0" stroke-width="0.8"/>
<line x1="270.45" x2="468.5" y1="424.17" y2="424.17" stroke="#e7eef0" stroke-width="0.8"/>
<line x1="270.45" x2="468.5" y1="385" y2="385" stroke="#e7eef0" stroke-width="0.8"/>
<text class="t" transform="translate(369.48,378.55) scale(0.97,1)" text-anchor="middle">Leucine Passing Bablok Regression line</text>
<path d="M270.45 381.3V506.0H468.5" fill="none" stroke="#333" stroke-width="0.8"/>
<line x1="268.65" x2="270.45" y1="502.5" y2="502.5" stroke="#333" stroke-width="0.8"/>
<text class="s" transform="translate(266.45,502.5) rotate(-90) scale(0.95,1)" text-anchor="middle">0</text>
<line x1="268.65" x2="270.45" y1="463.33" y2="463.33" stroke="#333" stroke-width="0.8"/>
<text class="s" transform="translate(266.45,463.33) rotate(-90) scale(0.95,1)" text-anchor="middle">2000</text>
<line x1="268.65" x2="270.45" y1="424.17" y2="424.17" stroke="#333" stroke-width="0.8"/>
<text class="s" transform="translate(266.45,424.17) rotate(-90) scale(0.95,1)" text-anchor="middle">4000</text>
<line x1="268.65" x2="270.45" y1="385" y2="385" stroke="#333" stroke-width="0.8"/>
<text class="s" transform="translate(266.45,385) rotate(-90) scale(0.95,1)" text-anchor="middle">6000</text>
<text class="s" transform="translate(257.25,443.65) rotate(-90) scale(0.95,1)" text-anchor="middle">Leucine_FFQ</text>
<line x1="274.5" x2="274.5" y1="506.0" y2="507.8" stroke="#333" stroke-width="0.8"/>
<text class="s" transform="translate(274.5,514.7) scale(0.95,1)" text-anchor="middle">0</text>
<line x1="322" x2="322" y1="506.0" y2="507.8" stroke="#333" stroke-width="0.8"/>
<text class="s" transform="translate(322,514.7) scale(0.95,1)" text-anchor="middle">2000</text>
<line x1="369.5" x2="369.5" y1="506.0" y2="507.8" stroke="#333" stroke-width="0.8"/>
<text class="s" transform="translate(369.5,514.7) scale(0.95,1)" text-anchor="middle">4000</text>
<line x1="417" x2="417" y1="506.0" y2="507.8" stroke="#333" stroke-width="0.8"/>
<text class="s" transform="translate(417,514.7) scale(0.95,1)" text-anchor="middle">6000</text>
<line x1="464.5" x2="464.5" y1="506.0" y2="507.8" stroke="#333" stroke-width="0.8"/>
<text class="s" transform="translate(464.5,514.7) scale(0.95,1)" text-anchor="middle">8000</text>
<text class="s" transform="translate(369.48,522.7) scale(0.95,1)" text-anchor="middle">Leucine_DHx</text>
<line x1="270.75" y1="505.4" x2="416.7" y2="385.7" stroke="#a8a8a8" stroke-width="0.9"/>
<line x1="274.9" y1="493.8" x2="442.6" y2="386.8" stroke="#3a3a3a" stroke-width="0.95"/>
<g class="m">
<circle cx="354.5" cy="398.5" r="1.2"/>
<circle cx="334.5" cy="420.5" r="1.2"/>
<circle cx="362.5" cy="426.5" r="1.2"/>
<circle cx="333.5" cy="435.5" r="1.2"/>
<circle cx="332.5" cy="439.5" r="1.2"/>
<circle cx="336.5" cy="439.5" r="1.2"/>
<circle cx="308.5" cy="440.5" r="1.2"/>
<circle cx="290.5" cy="443.5" r="1.2"/>
<circle cx="287.5" cy="447.5" r="1.2"/>
<circle cx="302.5" cy="449.5" r="1.2"/>
<circle cx="315.5" cy="449.5" r="1.2"/>
<circle cx="320.5" cy="446.5" r="1.2"/>
<circle cx="311.5" cy="452.5" r="1.2"/>
<circle cx="336.5" cy="450.5" r="1.2"/>
<circle cx="345.5" cy="447.5" r="1.2"/>
<circle cx="350.5" cy="449.5" r="1.2"/>
<circle cx="360.5" cy="448.5" r="1.2"/>
<circle cx="365.5" cy="451.5" r="1.2"/>
<circle cx="307.5" cy="455.5" r="1.2"/>
<circle cx="292.5" cy="456.5" r="1.2"/>
<circle cx="295.5" cy="458.5" r="1.2"/>
<circle cx="297.5" cy="457.5" r="1.2"/>
<circle cx="302.5" cy="462.5" r="1.2"/>
<circle cx="296.5" cy="464.5" r="1.2"/>
<circle cx="296.5" cy="467.5" r="1.2"/>
<circle cx="300.5" cy="467.5" r="1.2"/>
<circle cx="303.5" cy="467.5" r="1.2"/>
<circle cx="300.5" cy="469.5" r="1.2"/>
<circle cx="309.5" cy="465.5" r="1.2"/>
<circle cx="308.5" cy="470.5" r="1.2"/>
<circle cx="311.5" cy="471.5" r="1.2"/>
<circle cx="314.5" cy="469.5" r="1.2"/>
<circle cx="317.5" cy="466.5" r="1.2"/>
<circle cx="316.5" cy="472.5" r="1.2"/>
<circle cx="289.5" cy="474.5" r="1.2"/>
<circle cx="285.5" cy="476.5" r="1.2"/>
<circle cx="287.5" cy="478.5" r="1.2"/>
<circle cx="294.5" cy="473.5" r="1.2"/>
<circle cx="293.5" cy="476.5" r="1.2"/>
<circle cx="295.5" cy="478.5" r="1.2"/>
<circle cx="297.5" cy="476.5" r="1.2"/>
<circle cx="299.5" cy="472.5" r="1.2"/>
<circle cx="302.5" cy="472.5" r="1.2"/>
<circle cx="304.5" cy="472.5" r="1.2"/>
<circle cx="302.5" cy="476.5" r="1.2"/>
<circle cx="305.5" cy="476.5" r="1.2"/>
<circle cx="304.5" cy="479.5" r="1.2"/>
<circle cx="306.5" cy="477.5" r="1.2"/>
<circle cx="313.5" cy="477.5" r="1.2"/>
<circle cx="311.5" cy="480.5" r="1.2"/>
<circle cx="318.5" cy="459.5" r="1.2"/>
<circle cx="335.5" cy="457.5" r="1.2"/>
<circle cx="332.5" cy="462.5" r="1.2"/>
<circle cx="342.5" cy="464.5" r="1.2"/>
<circle cx="356.5" cy="461.5" r="1.2"/>
<circle cx="358.5" cy="463.5" r="1.2"/>
<circle cx="334.5" cy="466.5" r="1.2"/>
<circle cx="325.5" cy="466.5" r="1.2"/>
<circle cx="327.5" cy="467.5" r="1.2"/>
<circle cx="320.5" cy="469.5" r="1.2"/>
<circle cx="321.5" cy="471.5" r="1.2"/>
<circle cx="325.5" cy="471.5" r="1.2"/>
<circle cx="333.5" cy="472.5" r="1.2"/>
<circle cx="336.5" cy="472.5" r="1.2"/>
<circle cx="320.5" cy="474.5" r="1.2"/>
<circle cx="321.5" cy="474.5" r="1.2"/>
<circle cx="341.5" cy="476.5" r="1.2"/>
<circle cx="331.5" cy="478.5" r="1.2"/>
<circle cx="288.5" cy="480.5" r="1.2"/>
<circle cx="292.5" cy="479.5" r="1.2"/>
<circle cx="297.5" cy="480.5" r="1.2"/>
<circle cx="300.5" cy="479.5" r="1.2"/>
<circle cx="293.5" cy="483.5" r="1.2"/>
<circle cx="295.5" cy="483.5" r="1.2"/>
<circle cx="297.5" cy="484.5" r="1.2"/>
<circle cx="299.5" cy="483.5" r="1.2"/>
<circle cx="295.5" cy="487.5" r="1.2"/>
<circle cx="296.5" cy="486.5" r="1.2"/>
<circle cx="298.5" cy="486.5" r="1.2"/>
<circle cx="304.5" cy="481.5" r="1.2"/>
<circle cx="305.5" cy="484.5" r="1.2"/>
<circle cx="305.5" cy="486.5" r="1.2"/>
<circle cx="307.5" cy="487.5" r="1.2"/>
<circle cx="310.5" cy="480.5" r="1.2"/>
<circle cx="313.5" cy="479.5" r="1.2"/>
<circle cx="313.5" cy="484.5" r="1.2"/>
<circle cx="281.5" cy="484.5" r="1.2"/>
<circle cx="285.5" cy="486.5" r="1.2"/>
<circle cx="287.5" cy="485.5" r="1.2"/>
<circle cx="289.5" cy="484.5" r="1.2"/>
<circle cx="274.5" cy="490.5" r="1.2"/>
<circle cx="276.5" cy="492.5" r="1.2"/>
<circle cx="279.5" cy="491.5" r="1.2"/>
<circle cx="275.5" cy="493.5" r="1.2"/>
<circle cx="283.5" cy="494.5" r="1.2"/>
<circle cx="300.5" cy="490.5" r="1.2"/>
<circle cx="293.5" cy="494.5" r="1.2"/>
<circle cx="293.5" cy="500.5" r="1.2"/>
<circle cx="294.5" cy="483.5" r="1.2"/>
<circle cx="295.5" cy="489.5" r="1.2"/>
<circle cx="293.5" cy="486.5" r="1.2"/>
<circle cx="440.5" cy="397.5" r="1.2"/>
<circle cx="442.5" cy="423.5" r="1.2"/>
<circle cx="373.5" cy="437.5" r="1.2"/>
<circle cx="375.5" cy="449.5" r="1.2"/>
<circle cx="369.5" cy="460.5" r="1.2"/>
<circle cx="373.5" cy="461.5" r="1.2"/>
</g>
<text class="lab" x="359.05" y="542.1" text-anchor="middle">(M2)</text>
</svg></body></html>
